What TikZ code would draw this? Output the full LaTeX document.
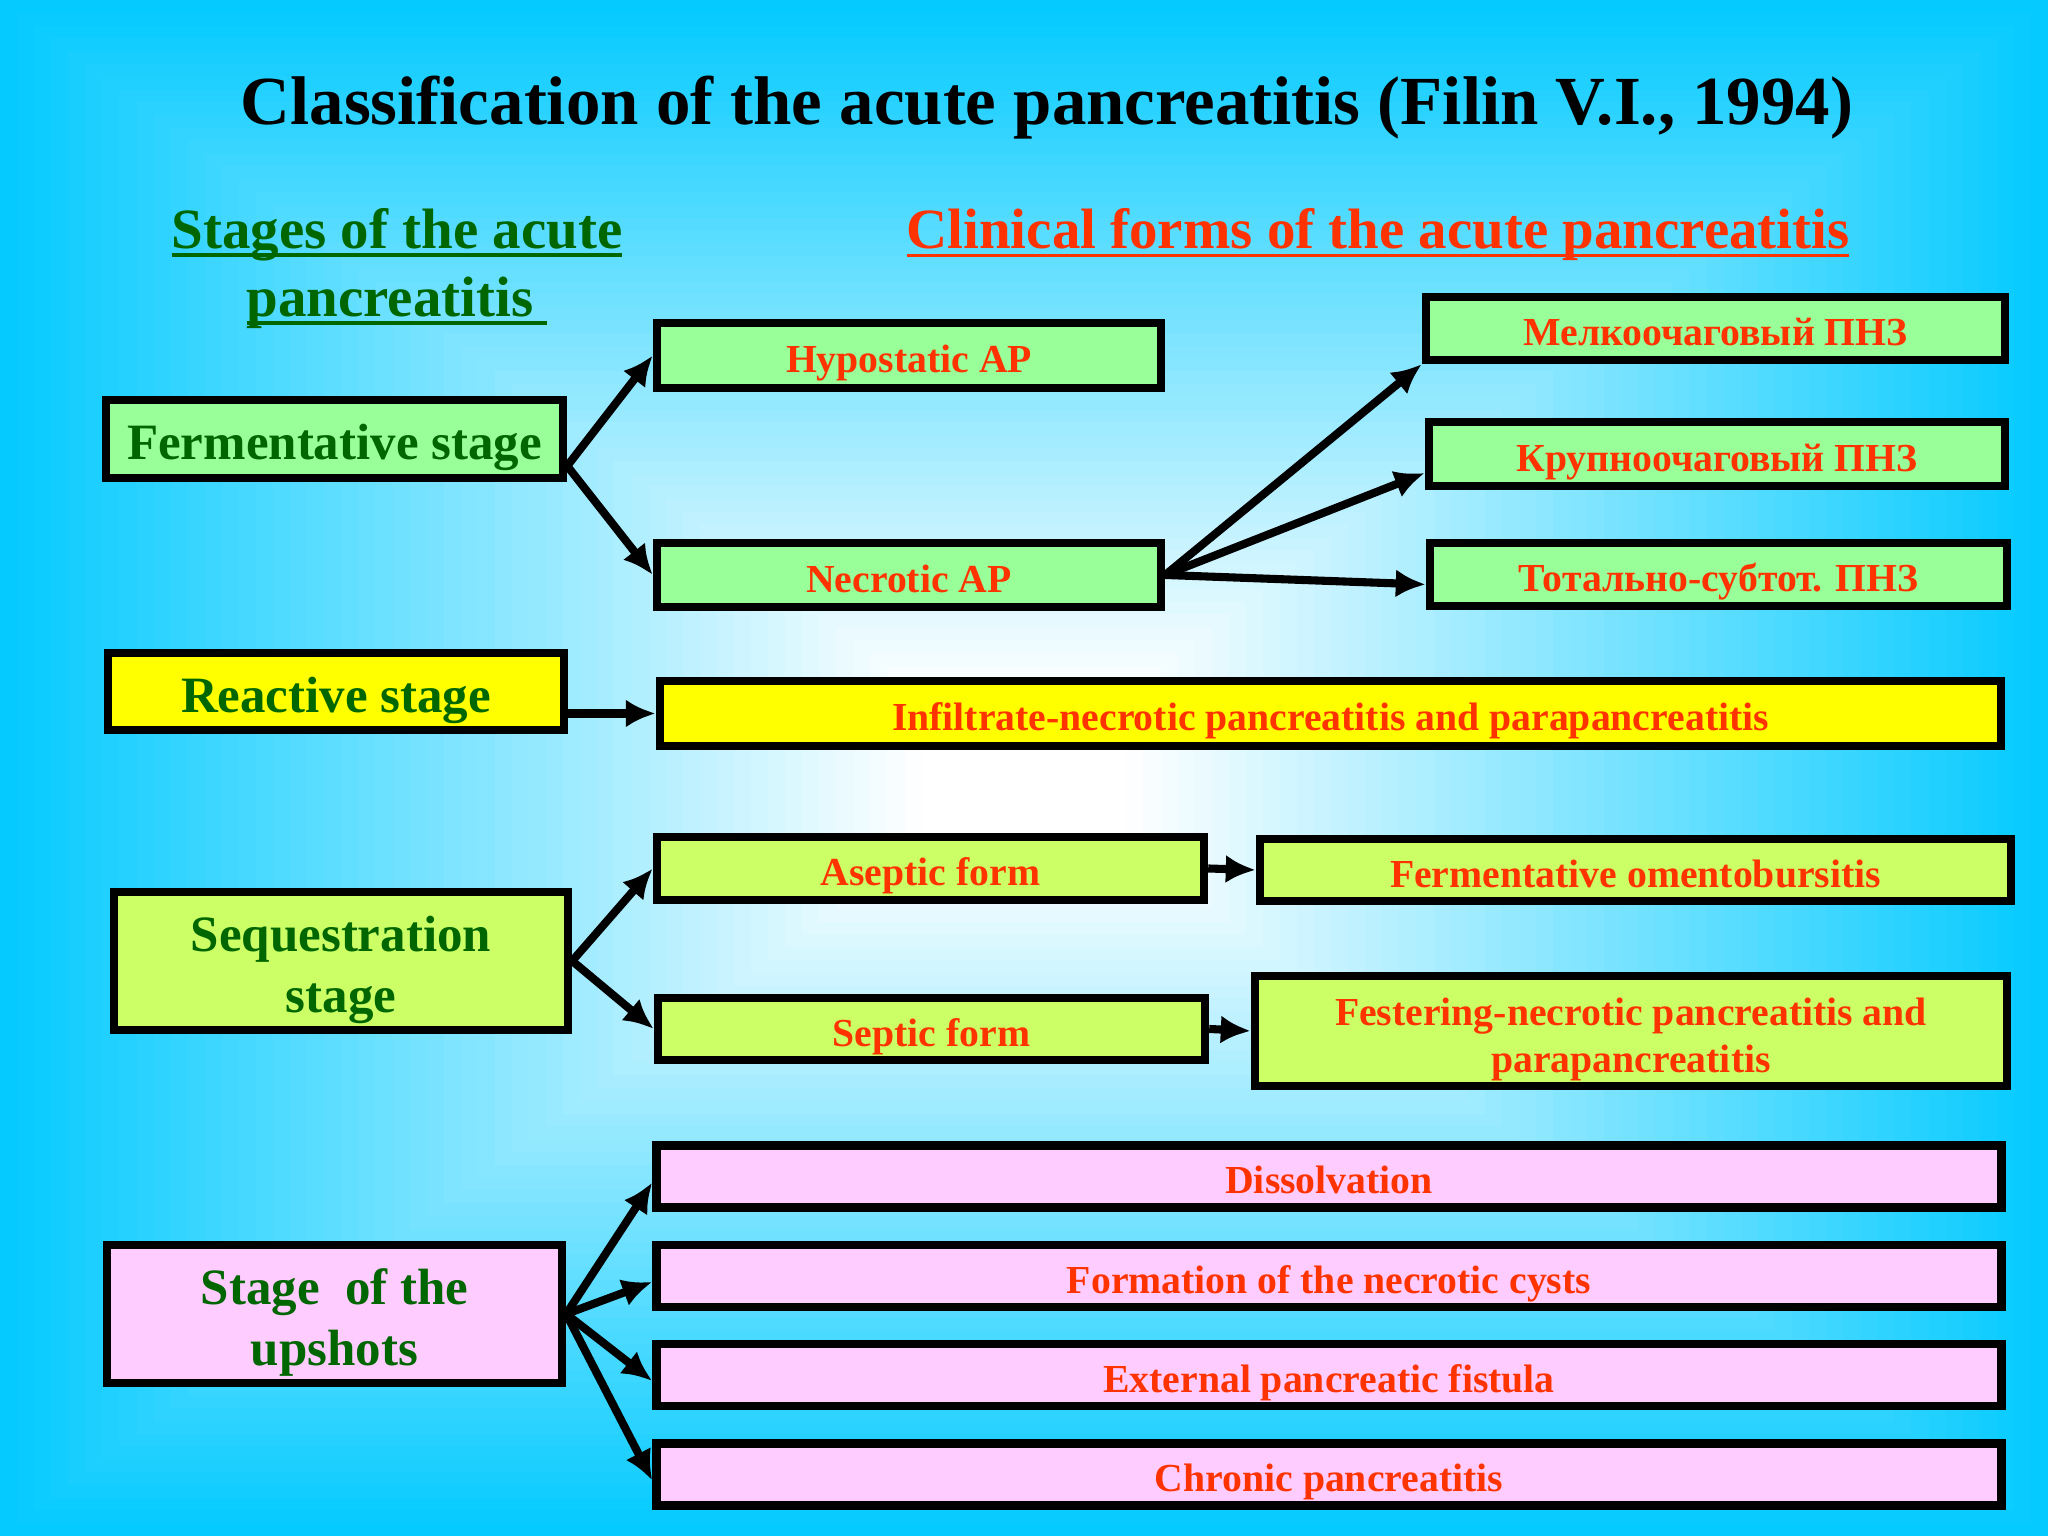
\documentclass[tikz,border=0pt]{standalone}
\usepackage{fontspec}
\setmainfont{Liberation Serif}
\usetikzlibrary{positioning,calc,arrows.meta}
\definecolor{slidecyan}{HTML}{04CAFF}
\definecolor{stagegreen}{HTML}{006600}
\definecolor{formred}{HTML}{FF3300}
\definecolor{mintfill}{HTML}{99FF99}
\definecolor{yellowfill}{HTML}{FFFF00}
\definecolor{limefill}{HTML}{CCFF66}
\definecolor{pinkfill}{HTML}{FFCCFF}
% underline close to the baseline, as in the slide headings
\newsavebox{\hdbox}
\newcommand{\hdul}[1]{\sbox{\hdbox}{#1}\rlap{\rule[-2.4pt]{\wd\hdbox}{1pt}}\usebox{\hdbox}}

\begin{document}
\begin{tikzpicture}[
  box/.style={draw=black, line width=2.4pt, inner sep=0pt, align=center},
  stagebox/.style={box, text=stagegreen, font=\fontsize{14.5}{17.4}\selectfont\bfseries,
    text height=14pt, text depth=2.3pt},
  stagetwo/.style={stagebox, text height=31.9pt},
  formbox/.style={box, text=formred, font=\fontsize{11.3}{13.5}\selectfont\bfseries,
    text height=12pt, text depth=2.2pt},
  formtwo/.style={formbox, text height=25.9pt},
  arr/.style={line width=2.3pt, -{Latex[length=3mm, width=2.8mm]}},
]

% background: rectangular gradient, cyan rim to white centre
\def\pw{20.48}  % page width
\def\ph{15.36}  % page height
\foreach \i in {0,...,59} {
  \pgfmathsetmacro{\t}{\i/60}
  \pgfmathsetmacro{\p}{max(0,100-112*\t)}
  \fill[slidecyan!\p!white] ({\t*\pw/2},{\t*\ph/2}) rectangle ({\pw-\t*\pw/2},{\ph-\t*\ph/2});
}
\useasboundingbox (0,0) rectangle (\pw,\ph);

% ---------- headings ----------
\node[font=\fontsize{19.6}{23.5}\selectfont\bfseries] (title) at (10.47,14.285)
  {Classification of the acute pancreatitis (Filin V.I., 1994)};
\node[text=stagegreen, align=center, font=\fontsize{16.2}{19.4}\selectfont\bfseries] (stagehead) at (3.97,12.676)
  {\hdul{Stages of the acute}\\\hdul{pancreatitis\ }};
\node[text=formred, font=\fontsize{16.2}{19.4}\selectfont\bfseries] (formhead) at (13.78,13.01)
  {\hdul{Clinical forms of the acute pancreatitis}};

% ---------- fermentative stage ----------
\node[stagebox, fill=mintfill, minimum width=4.57cm, minimum height=0.78cm] (ferm) at (3.345,10.97) {Fermentative stage};
\node[formbox, fill=mintfill, minimum width=5.04cm, minimum height=0.65cm] (hypo) at (9.09,11.805) {Hypostatic AP};
\node[formbox, fill=mintfill, minimum width=5.04cm, minimum height=0.64cm] (necro) at (9.09,9.61) {Necrotic AP};
\node[formbox, fill=mintfill, minimum width=5.79cm, minimum height=0.63cm] (melko) at (17.155,12.075) {Мелкоочаговый ПНЗ};
\node[formbox, fill=mintfill, minimum width=5.76cm, minimum height=0.64cm] (krup) at (17.17,10.82) {Крупноочаговый ПНЗ};
\node[formbox, fill=mintfill, minimum width=5.77cm, minimum height=0.63cm] (total) at (17.185,9.615) {Тотально-субтот. ПНЗ};

\coordinate (fermout) at ([yshift=-0.27cm]ferm.east);
\draw[arr] (fermout) -- (hypo.west);
\draw[arr] (fermout) -- (necro.west);
\draw[arr] (necro.east) -- (melko.south west);
\draw[arr] (necro.east) -- ([yshift=-0.19cm]krup.west);
\draw[arr] (necro.east) -- ([yshift=-0.1cm]total.west);

% ---------- reactive stage ----------
\node[stagebox, fill=yellowfill, minimum width=4.56cm, minimum height=0.77cm] (react) at (3.36,8.445) {Reactive stage};
\node[formbox, fill=yellowfill, minimum width=13.41cm, minimum height=0.65cm] (infil) at (13.305,8.225)
  {Infiltrate-necrotic pancreatitis and parapancreatitis};
\draw[arr] (infil.west -| react.east) -- (infil.west);

% ---------- sequestration stage ----------
\node[stagetwo, fill=limefill, minimum width=4.54cm, minimum height=1.38cm] (seq) at (3.41,5.75) {Sequestration\\stage};
\node[formbox, fill=limefill, minimum width=5.47cm, minimum height=0.63cm] (asep) at (9.305,6.675) {Aseptic form};
\node[formbox, fill=limefill, minimum width=5.47cm, minimum height=0.62cm] (sept) at (9.315,5.07) {Septic form};
\node[formbox, fill=limefill, minimum width=7.51cm, minimum height=0.62cm] (omento) at (16.355,6.66) {Fermentative omentobursitis};
\node[formtwo, fill=limefill, minimum width=7.52cm, minimum height=1.10cm] (fester) at (16.31,5.05)
  {Festering-necrotic pancreatitis and\\parapancreatitis};

\draw[arr] (seq.east) -- (asep.west);
\draw[arr] (seq.east) -- (sept.west);
\draw[arr] (asep.east) -- (omento.west);
\draw[arr] (sept.east) -- (fester.west);

% ---------- stage of the upshots ----------
\node[stagetwo, fill=pinkfill, minimum width=4.55cm, minimum height=1.38cm] (upshot) at (3.345,2.22) {Stage\ \ of the\\upshots};
\foreach \name/\y/\txt in {diss/3.595/Dissolvation,
                            cyst/2.60/Formation of the necrotic cysts,
                            fist/1.61/External pancreatic fistula,
                            chron/0.615/Chronic pancreatitis} {
  \node[formbox, fill=pinkfill, minimum width=13.45cm, minimum height=0.62cm] (\name) at (13.29,\y) {\txt};
  \draw[arr] (upshot.east) -- ([yshift=-0.06cm]\name.west);
}

\end{tikzpicture}
\end{document}
